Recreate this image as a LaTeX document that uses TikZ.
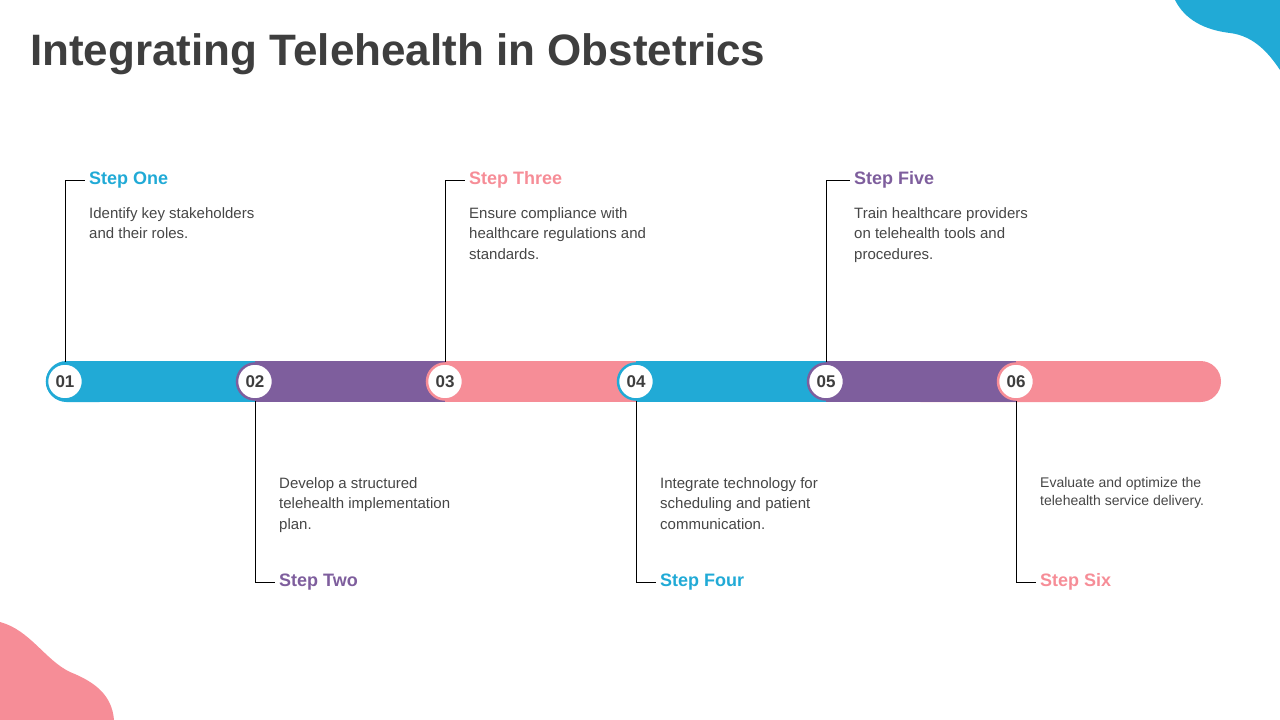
\documentclass[tikz,border=0pt]{standalone}
\usepackage{fontspec}
\setmainfont{Liberation Sans}
\definecolor{StepBlue}{RGB}{33,170,214}
\definecolor{StepPurple}{RGB}{126,94,157}
\definecolor{StepPink}{RGB}{246,141,151}
\definecolor{TitleGray}{RGB}{62,62,62}
\definecolor{BodyGray}{RGB}{70,70,70}
\usetikzlibrary{positioning}
\tikzset{
  stepdot/.style={circle, minimum size=36pt, inner sep=0pt, fill=white, draw=#1, line width=2.5pt,
    font=\fontsize{17}{17}\selectfont\bfseries, text=TitleGray},
  steplabel/.style={anchor=west, inner sep=0pt, font=\fontsize{18}{18}\selectfont\bfseries, text=#1},
  stepdesc/.style={anchor=north west, inner sep=0pt, align=left, text=BodyGray,
    font=\fontsize{15}{20.5}\selectfont},
  leader/.style={line width=0.8pt, black}
}
\begin{document}
\begin{tikzpicture}[x=1pt,y=-1pt]
\useasboundingbox (0,0) rectangle (1280,720);
% Corner blobs
\fill[StepBlue] (1175,0) .. controls (1185,20) and (1205,30) .. (1230,33)
  .. controls (1255,36) and (1270,55) .. (1280,70) -- (1280,0) -- cycle;
\fill[StepPink] (0,622) .. controls (30,630) and (45,660) .. (70,672)
  .. controls (95,682) and (112,695) .. (114,720) -- (0,720) -- cycle;

% Title
\node[anchor=west, inner sep=0pt, text=TitleGray, font=\fontsize{44}{44}\selectfont\bfseries] (title) at (30,54) {Integrating Telehealth in Obstetrics};

% Bar
\fill[StepPink, rounded corners=20.5pt] (900,361) rectangle (1221,402);
\fill[StepBlue, rounded corners=20.5pt] (46,361) rectangle (120,402);
\fill[StepBlue] (80,361) rectangle (255,402);
\fill[StepPurple] (255,361) rectangle (445,402);
\fill[StepPink] (445,361) rectangle (636,402);
\fill[StepBlue] (636,361) rectangle (826,402);
\fill[StepPurple] (826,361) rectangle (1016,402);

% Step circles
\node[stepdot=StepBlue] (c1) at (65,381.5) {01};
\node[stepdot=StepPurple] (c2) at (255,381.5) {02};
\node[stepdot=StepPink] (c3) at (445,381.5) {03};
\node[stepdot=StepBlue] (c4) at (636,381.5) {04};
\node[stepdot=StepPurple] (c5) at (826,381.5) {05};
\node[stepdot=StepPink] (c6) at (1016,381.5) {06};

% Upper steps
\node[steplabel=StepBlue] (l1) at (89,180) {Step One};
\node[stepdesc] (d1) at (89,207) {Identify key stakeholders\\and their roles.};
\node[steplabel=StepPink] (l3) at (469,180) {Step Three};
\node[stepdesc] (d3) at (469,207) {Ensure compliance with\\healthcare regulations and\\standards.};
\node[steplabel=StepPurple] (l5) at (854,180) {Step Five};
\node[stepdesc] (d5) at (854,207) {Train healthcare providers\\on telehealth tools and\\procedures.};

% Lower steps
\node[steplabel=StepPurple] (l2) at (279,582) {Step Two};
\node[stepdesc] (d2) at (279,477) {Develop a structured\\telehealth implementation\\plan.};
\node[steplabel=StepBlue] (l4) at (660,582) {Step Four};
\node[stepdesc] (d4) at (660,477) {Integrate technology for\\scheduling and patient\\communication.};
\node[steplabel=StepPink] (l6) at (1040,582) {Step Six};
\node[stepdesc, font=\fontsize{14}{18}\selectfont] (d6) at (1040,477) {Evaluate and optimize the\\telehealth service delivery.};

% Leaders
\draw[leader] (c1.north) |- ([xshift=-4pt]l1.west);
\draw[leader] (c3.north) |- ([xshift=-4pt]l3.west);
\draw[leader] (c5.north) |- ([xshift=-4pt]l5.west);
\draw[leader] (c2.south) |- ([xshift=-4pt]l2.west);
\draw[leader] (c4.south) |- ([xshift=-4pt]l4.west);
\draw[leader] (c6.south) |- ([xshift=-4pt]l6.west);
\end{tikzpicture}
\end{document}
